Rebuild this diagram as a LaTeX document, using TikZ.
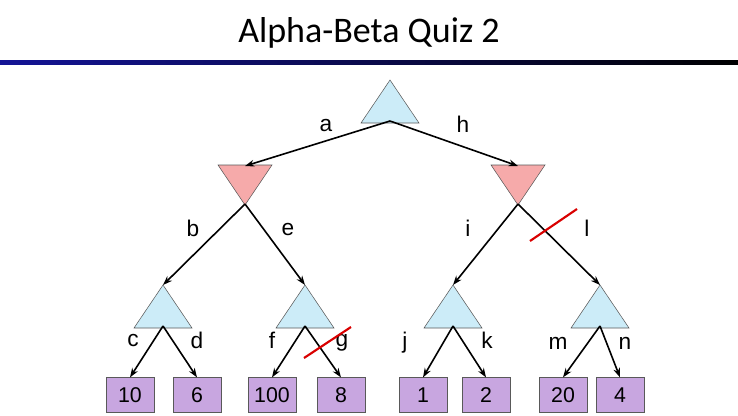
\documentclass[tikz,border=0pt]{standalone}
\usepackage{fontspec}
\setmainfont{Liberation Sans}
\newfontfamily\titlefont{Carlito}
\usetikzlibrary{arrows.meta}
\definecolor{maxc}{RGB}{204,236,248}
\definecolor{minc}{RGB}{246,170,170}
\definecolor{leafc}{RGB}{200,166,224}
\definecolor{bar}{RGB}{20,20,150}
\begin{document}
\begin{tikzpicture}[x=0.75pt,y=-0.75pt,
  edge/.style={-{Stealth[length=7pt,width=5pt]},line width=1.2pt},
  tri/.style={draw=gray!70!black,line width=0.4pt},
  leaf/.style={draw=gray!70!black,fill=leafc,minimum width=36pt,minimum height=26pt,inner sep=0pt,font=\fontsize{16}{16}\selectfont},
  lab/.style={font=\fontsize{17}{17}\selectfont},
  cut/.style={red!85!black,line width=1.6pt}]
\useasboundingbox (0,0) rectangle (738,415);
\node[font=\titlefont\fontsize{27}{27}\selectfont] (title) at (369,33) {Alpha-Beta Quiz 2};
\shade[left color=bar,right color=black] (0,60) rectangle (738,64);
\def\maxtri#1#2#3{\filldraw[tri,fill=maxc] (#2,#3) -- (#2+29,#3+43) -- (#2-29,#3+43) -- cycle;
  \coordinate (#1t) at (#2,#3); \coordinate (#1b) at (#2,#3+41);}
\def\mintri#1#2#3{\filldraw[tri,fill=minc] (#2-27,#3) -- (#2+27,#3) -- (#2,#3+40) -- cycle;
  \coordinate (#1t) at (#2,#3+1); \coordinate (#1b) at (#2,#3+39);}
\maxtri{r}{390}{80}
\mintri{A}{245}{165}
\mintri{B}{518}{165}
\maxtri{C}{163}{285}
\maxtri{D}{305}{285}
\maxtri{E}{453}{285}
\maxtri{F}{600}{285}
\node[leaf] (l1) at (130,395) {10};
\node[leaf] (l2) at (197,395) {6};
\node[leaf] (l3) at (272,395) {100};
\node[leaf] (l4) at (341,395) {8};
\node[leaf] (l5) at (423,395) {1};
\node[leaf] (l6) at (486,395) {2};
\node[leaf] (l7) at (563,395) {20};
\node[leaf] (l8) at (620,395) {4};
\draw[edge] (rb) -- (At);
\draw[edge] (rb) -- (Bt);
\draw[edge] (Ab) -- (Ct);
\draw[edge] (Ab) -- (Dt);
\draw[edge] (Bb) -- (Et);
\draw[edge] (Bb) -- (Ft);
\draw[edge] (Cb) -- (l1.north);
\draw[edge] (Cb) -- (l2.north);
\draw[edge] (Db) -- (l3.north);
\draw[edge] (Db) -- (l4.north);
\draw[edge] (Eb) -- (l5.north);
\draw[edge] (Eb) -- (l6.north);
\draw[edge] (Fb) -- (l7.north);
\draw[edge] (Fb) -- (l8.north);
\node[lab] (la) at (326,126) {a};
\node[lab] (lh) at (463,124) {h};
\node[lab] (lb) at (193,228) {b};
\node[lab] (le) at (288,230) {e};
\node[lab] (li) at (468,228) {i};
\node[lab] (ll) at (587,228) {l};
\node[lab] (lc) at (133,341) {c};
\node[lab] (ld) at (197,340) {d};
\node[lab] (lf) at (272,340) {f};
\node[lab] (lg) at (342,343) {g};
\node[lab] (lj) at (405,343) {j};
\node[lab] (lk) at (487,340) {k};
\node[lab] (lm) at (558,343) {m};
\node[lab] (ln) at (625,343) {n};
\draw[cut] (304,358) -- (351,327);
\draw[cut] (530,241) -- (577,209);
\end{tikzpicture}
\end{document}
